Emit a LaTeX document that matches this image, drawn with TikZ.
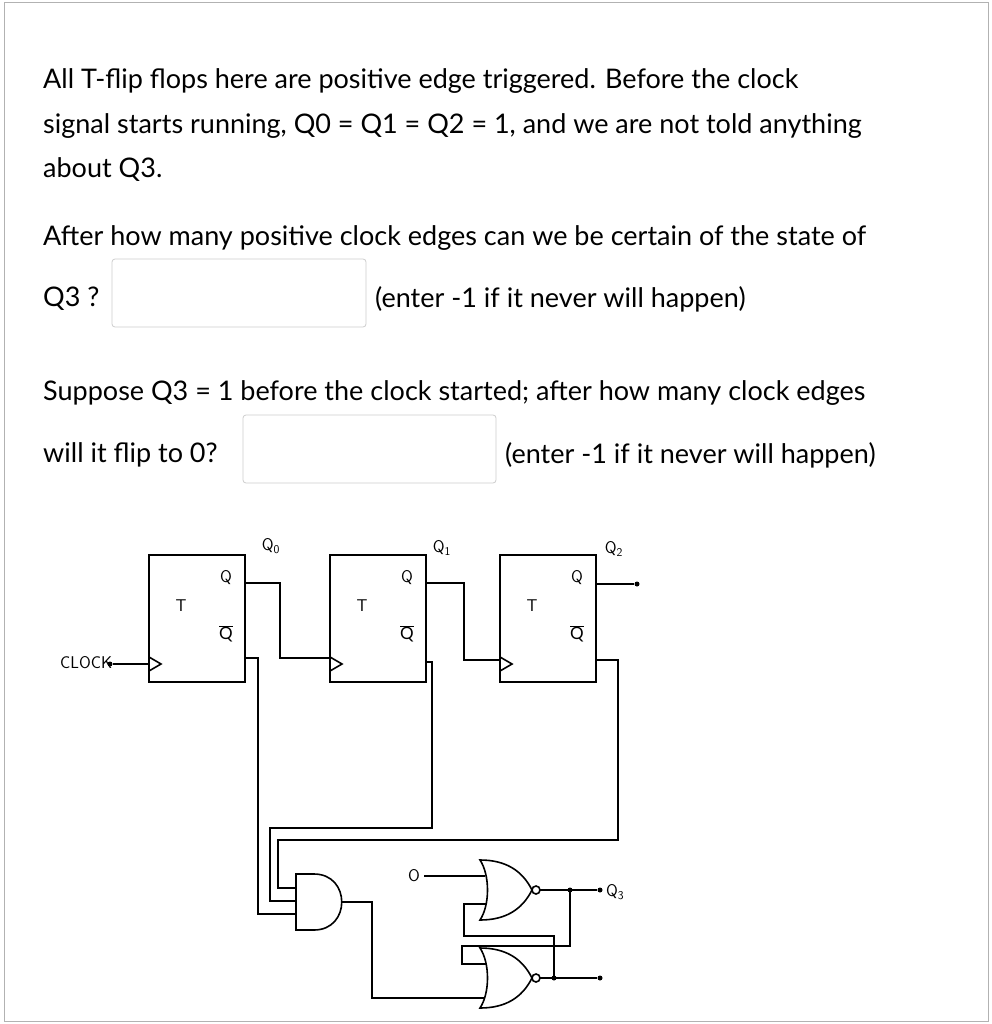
\documentclass[tikz,border=0pt]{standalone}
\usepackage{fontspec}
\setmainfont{Lato}
\usetikzlibrary{calc}
\begin{document}
\begin{tikzpicture}[x=1pt,y=-1pt,
  txt/.style={anchor=west,inner sep=0pt,font=\fontsize{27}{30}\selectfont},
  ff/.style={draw,line width=1.6pt},
  w/.style={line width=1.6pt},
  hand/.style={inner sep=0pt,font=\sffamily\fontsize{17}{18}\selectfont},
  dot/.style={circle,fill,inner sep=0pt,minimum size=5pt},
  inbox/.style={draw=gray!40,rounded corners=3pt,line width=0.8pt}]
\useasboundingbox (0,0) rectangle (991,1024);
\draw[gray!60,line width=1pt] (4,3) rectangle (988,1021);
\node[txt] (l1) at (43,81) {All T-flip flops here are positive edge triggered. Before the clock};
\node[txt] (l2) at (43,126) {signal starts running, Q0 = Q1 = Q2 = 1, and we are not told anything};
\node[txt] (l3) at (43,170) {about Q3.};
\node[txt] (l4) at (43,238) {After how many positive clock edges can we be certain of the state of};
\node[txt] (l5) at (43,299) {Q3 ?};
\draw[inbox] (112,259) rectangle (366,327);
\node[txt] (l6) at (375,299) {(enter -1 if it never will happen)};
\node[txt] (l7) at (43,393) {Suppose Q3 = 1 before the clock started; after how many clock edges};
\node[txt] (l8) at (43,455) {will it flip to 0?};
\draw[inbox] (243,415) rectangle (496,483);
\node[txt] (l9) at (505,455) {(enter -1 if it never will happen)};
% flip flops
\foreach \n/\x in {0/149,1/330,2/500}{
  \draw[ff] (\x,555) rectangle (\x+96,682);
  \draw[w] (\x,657) -- (\x+12,664) -- (\x,671);
  \node[hand] at (\x+32,606) {T};
  \node[hand] at (\x+77,578) {Q};
  \node[hand] at (\x+77,634) {$\overline{\mathrm{Q}}$};
}
\node[dot] (clk) at (110,664) {};
\node[hand,anchor=west] at (60,663) {CLOCK};
\draw[w] (clk) -- (149,664);
\node[hand] at (271,546) {Q\textsubscript{0}};
\node[hand] at (442,548) {Q\textsubscript{1}};
\node[hand] at (614,549) {Q\textsubscript{2}};
\draw[w] (245,583) -- (280,583) -- (280,658) -- (330,658);
\draw[w] (426,583) -- (464,583) -- (464,660) -- (500,660);
\node[dot] (q2d) at (637,584) {};
\draw[w] (596,584) -- (q2d);
% AND gate
\draw[w] (296,874) -- (314,874) .. controls (351,874) and (351,930) .. (314,930) -- (296,930) -- cycle;
\draw[w] (245,658) -- (258,658) -- (258,914) -- (296,914);
\draw[w] (426,662) -- (432,662) -- (432,828) -- (270,828) -- (270,901) -- (296,901);
\draw[w] (596,660) -- (618,660) -- (618,840) -- (278,840) -- (278,888) -- (296,888);
% NOR gates
\foreach \c in {890,978}{
  \draw[w] (480,\c-30) .. controls (490,\c-15) and (490,\c+15) .. (480,\c+30)
     .. controls (505,\c+30) and (522,\c+20) .. (532,\c)
     .. controls (522,\c-20) and (505,\c-30) .. (480,\c-30) -- cycle;
  \draw[w,fill=white] (536,\c) circle (4);
}
\node[hand] at (414,876) {O};
\draw[w] (424,876) -- (485,876);
\draw[w] (342,902) -- (372,902) -- (372,998) -- (484,998);
\node[dot] (q3) at (600,890) {};
\node[hand,anchor=west] at (606,892) {Q\textsubscript{3}};
\node[dot] (ob) at (600,978) {};
\draw[w] (540,890) -- (q3);
\draw[w] (540,978) -- (ob);
\draw[w] (486,904) -- (464,904) -- (464,936) -- (554,936) -- (554,978);
\draw[w] (486,964) -- (462,964) -- (462,946) -- (570,946) -- (570,890);
\fill (554,978) circle (2.5pt);
\fill (570,890) circle (2.5pt);
\end{tikzpicture}
\end{document}
